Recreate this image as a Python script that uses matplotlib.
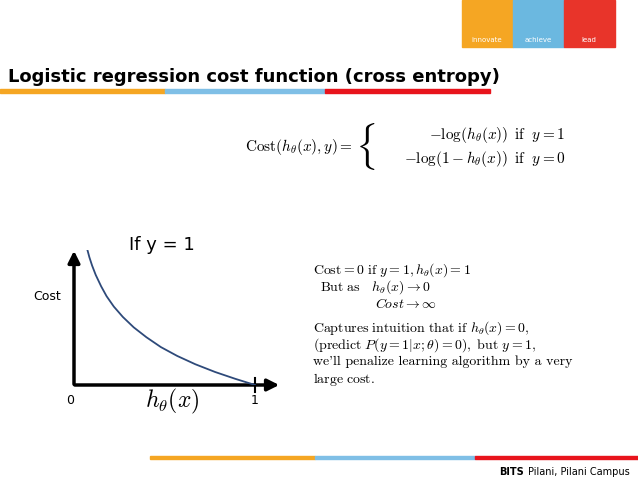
import matplotlib
matplotlib.use("Agg")
import matplotlib.pyplot as plt
from matplotlib.patches import Rectangle

plt.rcParams["mathtext.fontset"] = "cm"
W, H = 638, 478
curve_x = [0.075, 0.085, 0.10, 0.12, 0.15, 0.18, 0.22, 0.27, 0.33, 0.40, 0.48, 0.57, 0.67, 0.78, 0.89, 1.0]
curve_y = [2.59, 2.46, 2.30, 2.12, 1.90, 1.71, 1.51, 1.31, 1.11, 0.92, 0.73, 0.56, 0.40, 0.25, 0.12, 0.0]
logo_labels = ["innovate", "achieve", "lead"]
logo_colors = ["#f5a623", "#6bb8e0", "#e8342a"]
bar_colors = ["#f5a623", "#7fbfe6", "#e8141c"]

fig = plt.figure(figsize=(W/100, H/100), dpi=100)
bg = fig.add_axes([0, 0, 1, 1])
bg.set_xlim(0, W); bg.set_ylim(H, 0); bg.axis("off")

lx = [462, 513, 564]
for x0, c, lab in zip(lx, logo_colors, logo_labels):
    bg.add_patch(Rectangle((x0, 0), 51, 47, color=c))
    bg.text(x0 + 25, 43, lab, color="white", fontsize=5, ha="center", va="bottom")

bg.text(8, 77, "Logistic regression cost function (cross entropy)", fontsize=13,
        fontweight="bold", va="center", ha="left")
for (a, b), c in zip([(0, 165), (165, 325), (325, 490)], bar_colors):
    bg.add_patch(Rectangle((a, 89), b - a, 3.5, color=c))
for (a, b), c in zip([(150, 315), (315, 475), (475, 638)], bar_colors):
    bg.add_patch(Rectangle((a, 456), b - a, 3, color=c))
bg.text(524, 472, "BITS", fontsize=7, fontweight="bold", ha="right", va="center")
bg.text(630, 472, "Pilani, Pilani Campus", fontsize=7, ha="right", va="center")

bg.text(245, 147, r"$\mathrm{Cost}(h_\theta(x),y) = $", fontsize=11, ha="left", va="center")
bg.text(355, 147, r"$\{$", fontsize=28, ha="left", va="center")
bg.text(508, 135, r"$-\log(h_\theta(x))$", fontsize=11, ha="right", va="center")
bg.text(508, 159, r"$-\log(1-h_\theta(x))$", fontsize=11, ha="right", va="center")
bg.text(514, 135, r"$\mathrm{if}\ \ y=1$", fontsize=11, ha="left", va="center")
bg.text(514, 159, r"$\mathrm{if}\ \ y=0$", fontsize=11, ha="left", va="center")

lines = [(313, 270, r"$\mathrm{Cost}=0\ \mathrm{if}\ y=1,h_\theta(x)=1$"),
         (320, 287, r"$\mathrm{But\ as}\quad h_\theta(x)\rightarrow 0$"),
         (375, 304, r"$Cost\rightarrow\infty$"),
         (313, 328, r"$\mathrm{Captures\ intuition\ that\ if}\ h_\theta(x)=0,$"),
         (313, 345, r"$\mathrm{(predict}\ P(y=1|x;\theta)=0\mathrm{),\ but}\ y=1,$"),
         (313, 379, r"$\mathrm{large\ cost.}$")]
for x, y, t in lines:
    bg.text(x, y, t, fontsize=10, ha="left", va="center")
bg.text(313, 362, "we'll penalize learning algorithm by a very", fontsize=10,
        family="cmr10", ha="left", va="center")

x0, x1, yb, yt = 74, 280, 385, 250
ax = fig.add_axes([x0/W, 1 - yb/H, (x1 - x0)/W, (yb - yt)/H])
ax.set_xlim(0, 1.138); ax.set_ylim(0, 2.6); ax.axis("off")
ax.plot(curve_x, curve_y, color="#2e4a7a", lw=1.3)
bg.annotate("", xy=(282, 385), xytext=(72, 385),
            arrowprops=dict(arrowstyle="-|>,head_width=0.35,head_length=0.7", lw=2.5, color="black"))
bg.annotate("", xy=(74, 248), xytext=(74, 387),
            arrowprops=dict(arrowstyle="-|>,head_width=0.35,head_length=0.7", lw=2.5, color="black"))
bg.plot([255, 255], [378, 392], color="black", lw=1.5)
bg.text(70, 401, "0", fontsize=9, ha="center", va="center")
bg.text(255, 401, "1", fontsize=9, ha="center", va="center")
bg.text(172, 401, r"$h_\theta(x)$", fontsize=17, ha="center", va="center")
bg.text(47, 297, "Cost", fontsize=9, ha="center", va="center")
bg.text(162, 245, "If y = 1", fontsize=13, ha="center", va="center")

fig.savefig("out.png", dpi=100)
